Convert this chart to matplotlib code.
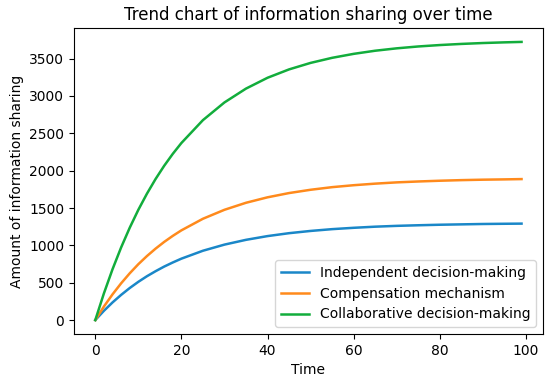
import matplotlib
matplotlib.use("Agg")
import matplotlib.pyplot as plt

# values
time = [0, 2, 4, 6, 8, 10, 12, 14, 16, 18, 20, 25, 30, 35, 40, 45, 50, 55,
        60, 65, 70, 75, 80, 85, 90, 95, 99]
independent = [0, 124, 236, 337, 429, 512, 587, 654, 716, 771, 822, 928, 1010,
               1074, 1124, 1163, 1193, 1217, 1235, 1250, 1261, 1269, 1276, 1281,
               1286, 1289, 1291]
compensation = [0, 181, 344, 492, 626, 748, 857, 956, 1046, 1127, 1201, 1356, 1476,
                1570, 1643, 1700, 1744, 1779, 1805, 1826, 1843, 1855, 1865, 1873,
                1879, 1883, 1887]
collaborative = [0, 357, 680, 972, 1236, 1476, 1692, 1888, 2065, 2225, 2370, 2676,
                 2913, 3098, 3243, 3355, 3442, 3510, 3563, 3605, 3637, 3662, 3681,
                 3696, 3708, 3717, 3723]

labels = ["Independent decision-making", "Compensation mechanism",
          "Collaborative decision-making"]
colors = ["#1a87c8", "#ff8a1c", "#12ad3c"]

fig = plt.figure(figsize=(5.5, 3.81), dpi=100)
ax = fig.add_axes([0.1345, 0.1234, 0.8525, 0.8031])

for series, label, color in zip([independent, compensation, collaborative], labels, colors):
    ax.plot(time, series, color=color, linewidth=1.8, label=label)

ax.set_title("Trend chart of information sharing over time", fontsize=12)
ax.set_xlabel("Time")
ax.set_ylabel("Amount of information sharing")
ax.set_xticks([0, 20, 40, 60, 80, 100])
ax.legend(loc="lower right")

fig.savefig("out.png", dpi=100)
